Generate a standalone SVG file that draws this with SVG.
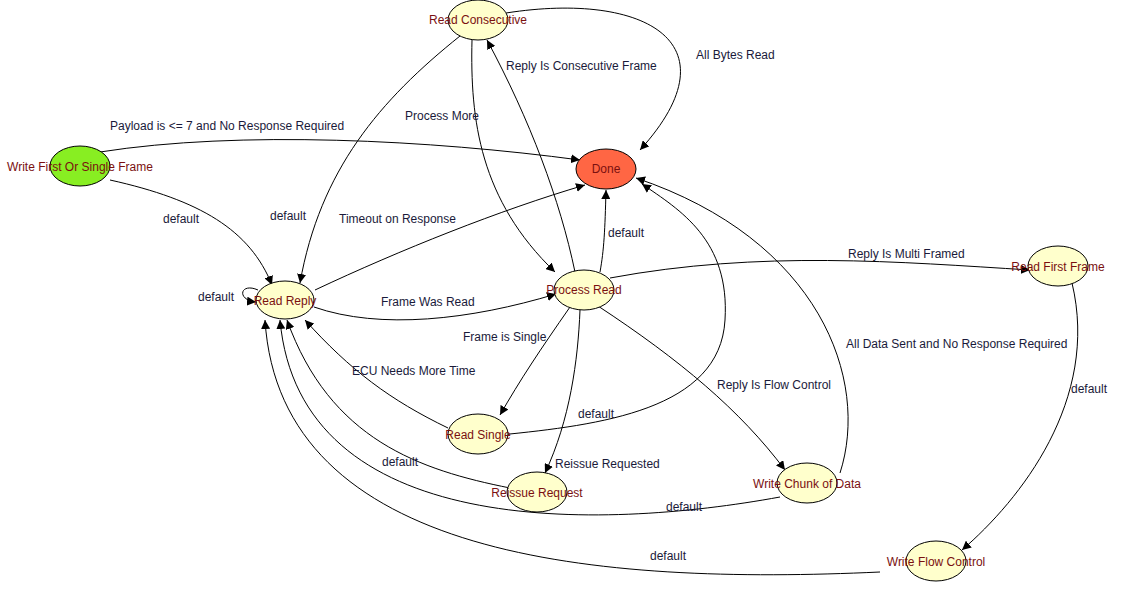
<svg xmlns="http://www.w3.org/2000/svg" width="1124" height="595" viewBox="0 0 1124 595">
<style>
.n ellipse{fill:#ffffcc;stroke:#000;stroke-width:1}
.n text{font-family:"Liberation Sans",Arial,sans-serif;font-size:12px;fill:#7a1010;text-anchor:middle}
#edges path{fill:none;stroke:#000;stroke-width:1;marker-end:url(#a)}
.l{font-family:"Liberation Sans",Arial,sans-serif;font-size:12px;fill:#1a1a3a}
</style>
<defs><marker id="a" viewBox="0 0 10 10" refX="10" refY="5" markerWidth="9" markerHeight="9" orient="auto" markerUnits="userSpaceOnUse"><path d="M0,0L10,5L0,10z" fill="#000"/></marker></defs>
<rect width="1124" height="595" fill="#fff"/>
<g id="edges">
<path d="M500,14C640,-10 740,40 640,150"/>
<path d="M472,40C470,120 480,200 555,272"/>
<path d="M575,272C560,200 530,120 487,40"/>
<path d="M460,36C380,100 320,170 300,283"/>
<path d="M100,152C240,130 430,140 580,160"/>
<path d="M110,180C200,200 250,230 272,285"/>
<path d="M258,290C240,282 236,300 256,302"/>
<path d="M315,290C400,250 500,210 585,185"/>
<path d="M314,307C380,330 470,320 556,294"/>
<path d="M600,272C604,250 605,230 606,190"/>
<path d="M610,278C760,250 900,262 1030,270"/>
<path d="M1072,283C1100,400 1020,500 962,550"/>
<path d="M840,473C870,380 820,240 636,178"/>
<path d="M598,306C680,360 740,410 785,470"/>
<path d="M580,310C578,360 570,420 545,473"/>
<path d="M570,307C540,350 520,380 500,415"/>
<path d="M448,428C390,400 350,370 305,320"/>
<path d="M500,435C600,425 720,410 725,320C730,240 680,210 642,184"/>
<path d="M510,488C420,470 330,440 287,320"/>
<path d="M780,497C600,530 300,540 280,320"/>
<path d="M880,572C600,585 280,560 265,320"/>
</g>
<g id="labels">
<text class="l" x="696" y="59">All Bytes Read</text>
<text class="l" x="506" y="70">Reply Is Consecutive Frame</text>
<text class="l" x="405" y="120">Process More</text>
<text class="l" x="110" y="130">Payload is &lt;= 7 and No Response Required</text>
<text class="l" x="163" y="223">default</text>
<text class="l" x="270" y="220">default</text>
<text class="l" x="339" y="223">Timeout on Response</text>
<text class="l" x="198" y="301">default</text>
<text class="l" x="381" y="306">Frame Was Read</text>
<text class="l" x="608" y="237">default</text>
<text class="l" x="848" y="258">Reply Is Multi Framed</text>
<text class="l" x="1071" y="393">default</text>
<text class="l" x="846" y="348">All Data Sent and No Response Required</text>
<text class="l" x="717" y="389">Reply Is Flow Control</text>
<text class="l" x="463" y="341">Frame is Single</text>
<text class="l" x="352" y="375">ECU Needs More Time</text>
<text class="l" x="578" y="418">default</text>
<text class="l" x="555" y="468">Reissue Requested</text>
<text class="l" x="382" y="466">default</text>
<text class="l" x="666" y="511">default</text>
<text class="l" x="650" y="560">default</text>
</g>
<g id="n1" class="n"><ellipse cx="478" cy="20" rx="30" ry="20"/><text x="478" y="28" dy="-4">Read Consecutive</text></g>
<g id="n2" class="n"><ellipse cx="606" cy="169" rx="30" ry="20" style="fill:#ff6644"/><text x="606" y="173">Done</text></g>
<g id="n3" class="n"><ellipse cx="80" cy="166" rx="30" ry="20" style="fill:#88ee22"/><text x="80" y="171">Write First Or Single Frame</text></g>
<g id="n4" class="n"><ellipse cx="285" cy="300" rx="29" ry="19"/><text x="285" y="305">Read Reply</text></g>
<g id="n5" class="n"><ellipse cx="584" cy="290" rx="30" ry="20"/><text x="584" y="294">Process Read</text></g>
<g id="n6" class="n"><ellipse cx="1058" cy="266" rx="30" ry="20"/><text x="1058" y="271">Read First Frame</text></g>
<g id="n7" class="n"><ellipse cx="478" cy="434" rx="30" ry="20"/><text x="478" y="439">Read Single</text></g>
<g id="n8" class="n"><ellipse cx="537" cy="492" rx="30" ry="20"/><text x="537" y="497">Reissue Request</text></g>
<g id="n9" class="n"><ellipse cx="807" cy="483" rx="30" ry="20"/><text x="807" y="488">Write Chunk of Data</text></g>
<g id="n10" class="n"><ellipse cx="936" cy="561" rx="30" ry="20"/><text x="936" y="566">Write Flow Control</text></g>
</svg>
